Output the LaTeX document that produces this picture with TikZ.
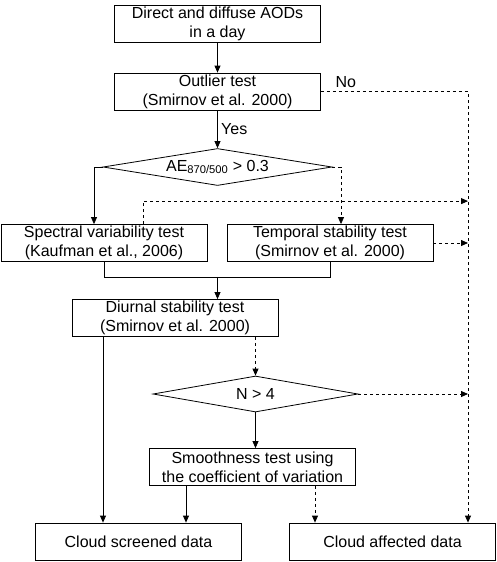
\documentclass[tikz,border=0pt]{standalone}
\usepackage{fontspec}
\setmainfont{Liberation Sans}
\usetikzlibrary{shapes.geometric,arrows.meta}

\begin{document}
\begin{tikzpicture}[->, >={Triangle[length=7pt,width=6pt]}, line width=0.8pt,
  font=\fontsize{16}{19}\selectfont,
  test node/.style={draw, align=center, minimum width=206pt, minimum height=37pt, inner sep=1pt},
  check node/.style={draw, diamond, aspect=6, inner sep=0pt}]
\useasboundingbox (0,0) rectangle (497pt,-562pt);

\node[test node] at (217.5pt,-24pt) (src) {Direct and diffuse AODs\\in a day};
\node[test node, below of=src, node distance=67.5pt] (outlier) {Outlier test\\(Smirnov et al. 2000)};
\node[check node, minimum width=229pt, minimum height=37pt, below of=outlier, node distance=75.5pt] (ae) {AE\textsubscript{870/500} > 0.3};
\node[test node, below of=ae, node distance=76pt, xshift=-113.5pt] (spec) {Spectral variability test\\(Kaufman et al., 2006)};
\node[test node, below of=ae, node distance=76pt, xshift=112.5pt] (temp) {Temporal stability test\\(Smirnov et al. 2000)};
\node[test node, below of=spec, node distance=75pt, xshift=71pt] (diurnal) {Diurnal stability test\\(Smirnov et al. 2000)};
\node[check node, minimum width=205pt, minimum height=36pt, below of=diurnal, node distance=76pt, xshift=80.5pt] (n4) {N > 4};
\node[test node, below of=n4, node distance=73pt, xshift=-3pt] (smooth) {Smoothness test using\\the coefficient of variation};
\node[test node, below of=smooth, node distance=74.5pt, xshift=-114pt] (screened) {Cloud screened data};
\node[test node, right of=screened, node distance=254pt] (affected) {Cloud affected data};
\coordinate[right of=outlier, node distance=250.5pt] (rail);

\path
(src) edge (outlier)
(outlier) edge node[right, pos=0.5] {Yes} (ae)
(n4.south) edge (n4.south |- smooth.north);

% rejected branches
\draw[dashed] (outlier.east) -- node[above, pos=0.17] {No} (rail) -- (rail |- affected.north);
\draw[dashed] (ae.east) -| ([xshift=11pt]temp.north);
\draw[dashed] ([xshift=39pt]spec.north) |- ([yshift=23pt]spec.north -| rail);
\draw[dashed] (temp.east) -- (temp -| rail);
\draw[dashed] (n4.east) -- (n4 -| rail);
\draw[dashed] (diurnal.south -| n4) -- (n4.north);
\draw[dashed] ([xshift=62.5pt]smooth.south) coordinate (s2) -- (s2 |- affected.north);

% passed branches
\draw (ae.west) -| ([xshift=-10pt]spec.north);
\draw[-] (spec.south) |- ([yshift=-15pt]temp.south) -- (temp.south);
\draw ([yshift=-15pt]spec.south -| ae) coordinate (m) -- (m |- diurnal.north);
\draw ([xshift=-72pt]diurnal.south) coordinate (d1) -- (d1 |- screened.north);
\draw ([xshift=-66.5pt]smooth.south) coordinate (s1) -- (s1 |- screened.north);
\end{tikzpicture}
\end{document}
